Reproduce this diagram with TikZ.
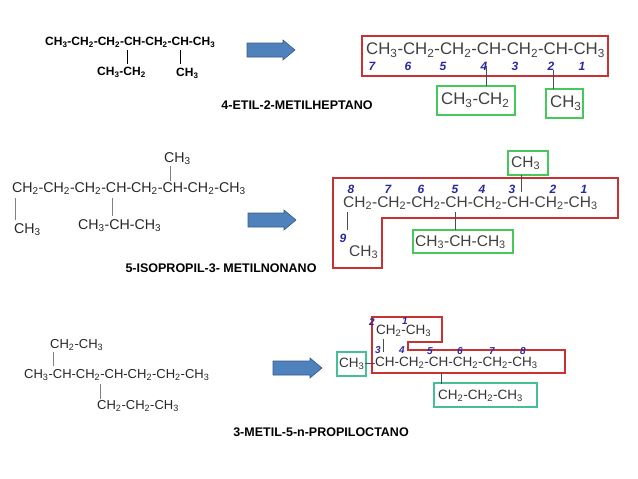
\documentclass[tikz,border=0pt]{standalone}
\usepackage{fontspec}
\setmainfont{Liberation Sans}
\newcommand\sbx[1]{\textsubscript{#1}}
\newcommand\fs[1]{\fontsize{#1}{#1}\selectfont}
\definecolor{rbox}{RGB}{200,50,50}
\definecolor{gbox}{RGB}{70,200,90}
\definecolor{tbox}{RGB}{70,190,150}
\definecolor{arr}{RGB}{79,129,189}
\definecolor{num}{RGB}{40,40,160}
\tikzset{
 f/.style={inner sep=0pt,anchor=west},
 nm/.style={inner sep=0pt,text=num,font=\bfseries\itshape\fs{12}},
 nms/.style={inner sep=0pt,text=num,font=\bfseries\itshape\fs{10}},
 red/.style={draw=rbox,line width=1.6pt},
 grn/.style={draw=gbox,line width=1.6pt},
 bond/.style={draw=black!70,line width=0.8pt},
 barrow/.style={fill=arr,draw=arr!70!black,line width=0.6pt},
 lbl/.style={inner sep=0pt,font=\bfseries\fs{12.5}}
}
\begin{document}
\begin{tikzpicture}[x=1pt,y=-1pt]
\useasboundingbox (0,0) rectangle (638,479);
% ---------- section 1
\node[f,font=\bfseries\fs{12}] (a1) at (45,42) {CH\sbx3-CH\sbx2-CH\sbx2-CH-CH\sbx2-CH-CH\sbx3};
\node[f,font=\bfseries\fs{12}] (a2) at (97,72) {CH\sbx3-CH\sbx2};
\node[f,font=\bfseries\fs{12}] (a3) at (176,73) {CH\sbx3};
\coordinate (a1b1) at (127,50); \coordinate (a1b2) at (127,64);
\coordinate (a1c1) at (180,50); \coordinate (a1c2) at (180,64);
\draw[bond,black] (a1b1) -- (a1b2) (a1c1) -- (a1c2);
\draw[barrow] (247,43) -- (283,43) -- (283,40) -- (295,50) -- (283,60) -- (283,57) -- (247,57) -- cycle;
\node[lbl] (l1) at (297,105) {4-ETIL-2-METILHEPTANO};
\draw[red] (362,36) rectangle (608,76);
\node[f,font=\fs{16.8},text=black!75] (r1) at (366,50) {CH\sbx3-CH\sbx2-CH\sbx2-CH-CH\sbx2-CH-CH\sbx3};
\foreach \n/\x in {7/372,6/408,5/443,4/484,3/515,2/551,1/582}
  \node[nm] (n1\n) at (\x,66) {\n};
\draw[grn] (437,86) rectangle (515,115);
\draw[grn] (546,89) rectangle (583,118);
\node[f,font=\fs{16.8},text=black!75] (r2) at (441,100) {CH\sbx3-CH\sbx2};
\node[f,font=\fs{16.8},text=black!75] (r3) at (550,103) {CH\sbx3};
\coordinate (p1) at (486,66); \coordinate (p2) at (486,86);
\coordinate (p3) at (553,70); \coordinate (p4) at (553,89);
\draw[bond] (p1) -- (p2) (p3) -- (p4);
% ---------- section 2
\node[f,font=\fs{14.2},text=black!85] (b1) at (12,189) {CH\sbx2-CH\sbx2-CH\sbx2-CH-CH\sbx2-CH-CH\sbx2-CH\sbx3};
\node[f,font=\fs{14.2},text=black!85] (b2) at (164,159) {CH\sbx3};
\node[f,font=\fs{14.2},text=black!85] (b3) at (14,230) {CH\sbx3};
\node[f,font=\fs{14.2},text=black!85] (b4) at (78,226) {CH\sbx3-CH-CH\sbx3};
\draw[bond,black!50] (170,166) -- (170,181) (15,198) -- (15,220) (112,198) -- (112,216);
\draw[barrow] (248,213) -- (284,213) -- (284,210) -- (296,220) -- (284,230) -- (284,227) -- (248,227) -- cycle;
\node[lbl] (l2) at (221,268) {5-ISOPROPIL-3- METILNONANO};
\draw[red] (333,178) -- (618,178) -- (618,218) -- (382,218) -- (382,268) -- (333,268) -- cycle;
\draw[grn] (508,151) rectangle (548,175);
\draw[grn] (413,230) rectangle (513,253);
\node[f,font=\fs{15.5},text=black!75] (s1) at (343,203) {CH\sbx2-CH\sbx2-CH\sbx2-CH-CH\sbx2-CH-CH\sbx2-CH\sbx3};
\node[f,font=\fs{15.5},text=black!75] (s2) at (511,163) {CH\sbx3};
\node[f,font=\fs{15.5},text=black!75] (s3) at (415,242) {CH\sbx3-CH-CH\sbx3};
\node[f,font=\fs{15.5},text=black!75] (s4) at (349,252) {CH\sbx3};
\foreach \n/\x in {8/351,7/388,6/421,5/455,4/482,3/512,2/553,1/584}
  \node[nm] (n2\n) at (\x,189) {\n};
\node[nm] (n29) at (343,238) {9};
\draw[bond] (347,212) -- (347,230) (455,212) -- (455,230) (521,175) -- (521,192);
% ---------- section 3
\node[f,font=\fs{13},text=black!85] (c1) at (24,375) {CH\sbx3-CH-CH\sbx2-CH-CH\sbx2-CH\sbx2-CH\sbx3};
\node[f,font=\fs{13},text=black!85] (c2) at (50,345) {CH\sbx2-CH\sbx3};
\node[f,font=\fs{13},text=black!85] (c3) at (97,406) {CH\sbx2-CH\sbx2-CH\sbx3};
\draw[bond,black!50] (53,352) -- (53,366) (100,384) -- (100,399);
\draw[barrow] (273,361) -- (310,361) -- (310,358) -- (322,368) -- (310,378) -- (310,375) -- (273,375) -- cycle;
\node[lbl] (l3) at (321,432) {3-METIL-5-n-PROPILOCTANO};
\draw[red] (372,317) -- (442,317) -- (442,342) -- (408,342) -- (408,350) -- (565,350) -- (565,373) -- (372,373) -- cycle;
\draw[draw=tbox,line width=1.6pt] (337,352) rectangle (366,376);
\draw[draw=tbox,line width=1.6pt] (434,383) rectangle (537,407);
\node[f,font=\fs{13.5},text=black!80] (t1) at (376,331) {CH\sbx2-CH\sbx3};
\node[f,font=\fs{13.5},text=black!80] (t2) at (375,363) {CH-CH\sbx2-CH-CH\sbx2-CH\sbx2-CH\sbx3};
\node[f,font=\fs{13.5},text=black!80] (t3) at (339,364) {CH\sbx3};
\node[f,font=\fs{13.5},text=black!80] (t4) at (438,396) {CH\sbx2-CH\sbx2-CH\sbx3};
\draw[bond] (365,363) -- (375,363);
\foreach \n/\x/\y in {2/372/322,1/405/321,3/378/350,4/402/350,5/430/351,6/460/351,7/492/351,8/523/351}
  \node[nms] (n3\n) at (\x,\y) {\n};
\draw[bond] (383,339) -- (383,352) (441,372) -- (441,384);
\end{tikzpicture}
\end{document}
